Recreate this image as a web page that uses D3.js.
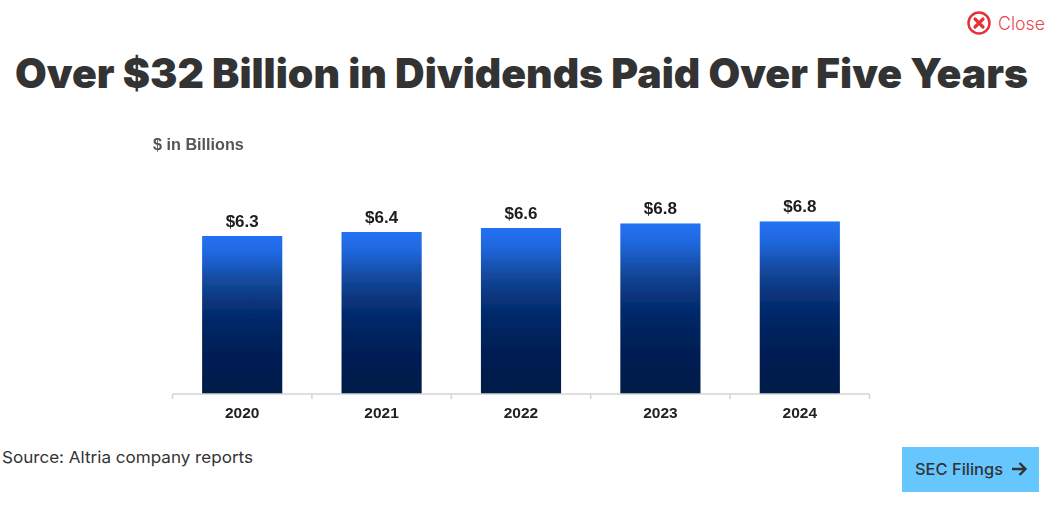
<!DOCTYPE html>
<html>
<head>
<meta charset="utf-8">
<script src="https://cdn.jsdelivr.net/npm/d3@7"></script>
<style>
    html, body { margin: 0; padding: 0; background: #fff; overflow: hidden; }
    svg { display: block; }
</style>
</head>
<body>
<div id="chart"></div>
<script>
const years = ['2020', '2021', '2022', '2023', '2024'];
// bar heights
const dividends = [6.3, 6.46, 6.62, 6.8, 6.88];
const valueLabels = ['$6.3', '$6.4', '$6.6', '$6.8', '$6.8'];

const width = 1051;
const height = 507;
const pageFont = 'Inter, "Open Sans", sans-serif';
const chartFont = '"Liberation Sans", Arial, sans-serif';

const svg = d3.select('#chart')
    .append('svg')
    .attr('width', width)
    .attr('height', height);

const defs = svg.append('defs');

// Bar gradient runs from bright blue at the top to navy at the base
const gradient = defs.append('linearGradient')
    .attr('id', 'barFill')
    .attr('x1', 0).attr('y1', 0)
    .attr('x2', 0).attr('y2', 1);
gradient.append('stop').attr('offset', '0%').attr('stop-color', '#2272f4');
gradient.append('stop').attr('offset', '12%').attr('stop-color', '#1f66dc');
gradient.append('stop').attr('offset', '28%').attr('stop-color', '#144a9e');
gradient.append('stop').attr('offset', '40%').attr('stop-color', '#0a3780');
gradient.append('stop').attr('offset', '52%').attr('stop-color', '#03296b');
gradient.append('stop').attr('offset', '70%').attr('stop-color', '#002058');
gradient.append('stop').attr('offset', '100%').attr('stop-color', '#001a48');

// The chart in the reference is a slightly soft raster
defs.append('filter')
    .attr('id', 'soft')
    .append('feGaussianBlur')
    .attr('stdDeviation', 0.4);

const x = d3.scaleBand()
    .domain(years)
    .range([172.5, 869.5])
    .paddingInner(0.425)
    .paddingOuter(0.2125);

const y = d3.scaleLinear()
    .domain([0, 6.3])
    .range([394, 236]);

const chart = svg.append('g').attr('filter', 'url(#soft)');

chart.selectAll('rect.bar')
    .data(years)
    .join('rect')
    .attr('class', 'bar')
    .attr('x', d => x(d))
    .attr('y', (d, i) => y(dividends[i]))
    .attr('width', x.bandwidth())
    .attr('height', (d, i) => y(0) - y(dividends[i]))
    .attr('fill', 'url(#barFill)');

chart.selectAll('text.value')
    .data(years)
    .join('text')
    .attr('class', 'value')
    .attr('x', d => x(d) + x.bandwidth() / 2)
    .attr('y', (d, i) => y(dividends[i]) - 9)
    .attr('text-anchor', 'middle')
    .attr('font-family', chartFont)
    .attr('font-weight', 700)
    .attr('font-size', 17)
    .attr('fill', '#1c1c1c')
    .text((d, i) => valueLabels[i]);

// Axis line with ticks on the band boundaries
const axisLine = chart.append('g').attr('stroke', '#d4d4d4').attr('stroke-width', 1.5);
axisLine.append('line')
    .attr('x1', x.range()[0]).attr('x2', x.range()[1])
    .attr('y1', y(0)).attr('y2', y(0));
axisLine.selectAll('line.tick')
    .data(d3.range(years.length + 1))
    .join('line')
    .attr('class', 'tick')
    .attr('x1', i => x.range()[0] + i * x.step())
    .attr('x2', i => x.range()[0] + i * x.step())
    .attr('y1', y(0))
    .attr('y2', y(0) + 5);

chart.selectAll('text.year')
    .data(years)
    .join('text')
    .attr('class', 'year')
    .attr('x', d => x(d) + x.bandwidth() / 2)
    .attr('y', 418)
    .attr('text-anchor', 'middle')
    .attr('font-family', chartFont)
    .attr('font-weight', 700)
    .attr('font-size', 15.5)
    .attr('fill', '#222')
    .text(d => d);

chart.append('text')
    .attr('x', 153)
    .attr('y', 150)
    .attr('font-family', chartFont)
    .attr('font-weight', 700)
    .attr('font-size', 16.2)
    .attr('fill', '#555')
    .text('$ in Billions');

// Page furniture around the chart
svg.append('text')
    .attr('x', 15)
    .attr('y', 88)
    .attr('font-family', pageFont)
    .attr('font-weight', 900)
    .attr('font-size', 41)
    .attr('fill', '#333')
    .attr('textLength', 1013)
    .attr('lengthAdjust', 'spacingAndGlyphs')
    .text('Over $32 Billion in Dividends Paid Over Five Years');

svg.append('text')
    .attr('x', 2)
    .attr('y', 463)
    .attr('font-family', pageFont)
    .attr('font-size', 16.5)
    .attr('fill', '#333')
    .attr('textLength', 251)
    .attr('lengthAdjust', 'spacingAndGlyphs')
    .text('Source: Altria company reports');

const closeBtn = svg.append('g').attr('fill', 'none').attr('stroke', '#e53238');
closeBtn.append('circle')
    .attr('cx', 979).attr('cy', 23).attr('r', 10.5)
    .attr('stroke-width', 2.5);
closeBtn.append('path')
    .attr('d', 'M975,19 L983,27 M983,19 L975,27')
    .attr('stroke-width', 3.2)
    .attr('stroke-linecap', 'round');
svg.append('text')
    .attr('x', 998)
    .attr('y', 30)
    .attr('font-family', pageFont)
    .attr('font-weight', 300)
    .attr('font-size', 18)
    .attr('fill', '#e8484d')
    .attr('textLength', 47)
    .attr('lengthAdjust', 'spacingAndGlyphs')
    .text('Close');

svg.append('rect')
    .attr('x', 902).attr('y', 447)
    .attr('width', 137).attr('height', 45)
    .attr('fill', '#66c7ff');
svg.append('text')
    .attr('x', 915)
    .attr('y', 475)
    .attr('font-family', pageFont)
    .attr('font-weight', 500)
    .attr('font-size', 16)
    .attr('fill', '#333')
    .attr('textLength', 88)
    .attr('lengthAdjust', 'spacingAndGlyphs')
    .text('SEC Filings');
svg.append('path')
    .attr('d', 'M1012,469 H1025 M1019.5,463 L1025.5,469 L1019.5,475')
    .attr('fill', 'none')
    .attr('stroke', '#333')
    .attr('stroke-width', 2.4);
</script>
</body>
</html>
